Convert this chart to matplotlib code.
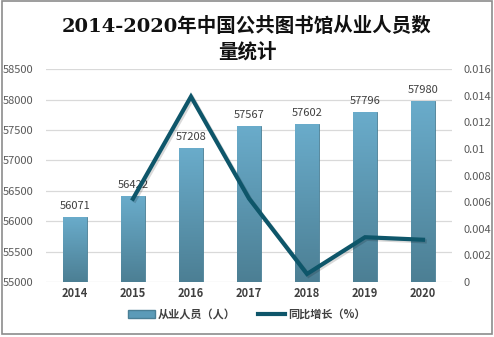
import numpy as np
import matplotlib
matplotlib.use("Agg")
import matplotlib.pyplot as plt
from matplotlib.patches import Rectangle
from matplotlib.colors import LinearSegmentedColormap
import matplotlib.patheffects as pe

plt.rcParams['font.family'] = ['Noto Sans CJK SC', 'DejaVu Sans']

years = ['2014', '2015', '2016', '2017', '2018', '2019', '2020']
staff = [56071, 56422, 57208, 57567, 57602, 57796, 57980]
growth_years = ['2015', '2016', '2017', '2018', '2019', '2020']
growth = [0.00626, 0.01393, 0.00628, 0.00061, 0.00337, 0.00318]

fig = plt.figure(figsize=(4.94, 3.37), dpi=100)
fig.patches.append(Rectangle((0.004, 0.008), 0.992, 0.99, transform=fig.transFigure,
                             fill=False, edgecolor='#8c8c8c', linewidth=1.2))

ax = fig.add_axes([0.093, 0.163, 0.822, 0.632])
x = np.arange(len(years))
bars = ax.bar(x, staff, width=0.4, color='#5b9bb8', edgecolor='#4a7f95', linewidth=0.6, zorder=2)
ax.set_yticks(np.arange(55000, 58501, 500))
ax.yaxis.grid(True, color='#d9d9d9', linewidth=0.9, zorder=0)
ax.set_axisbelow(True)
for s in ax.spines.values():
    s.set_visible(False)
ax.tick_params(axis='both', length=0, colors='#595959', labelsize=8)
ax.tick_params(axis='y', pad=9)
ax.set_xticks(x)
ax.set_xticklabels(years, fontweight='bold', color='#404040', fontsize=8)

# gradient fill on the bars
cmap = LinearSegmentedColormap.from_list('bar', ['#4c7f94', '#6aaccb'])
grad = np.linspace(0, 1, 100).reshape(-1, 1)
for b in bars:
    bx, bw, bh = b.get_x(), b.get_width(), b.get_height()
    im = ax.imshow(grad, cmap=cmap, origin='lower', aspect='auto',
                   extent=[bx, bx + bw, 55000, bh], zorder=2)
    im.set_clip_path(b)
ax.set_xlim(-0.5, len(years) - 0.5)
ax.set_ylim(55000, 58500)

for xi, v in zip(x, staff):
    ax.text(xi, v + 90, str(v), ha='center', va='bottom', fontsize=8, color='#404040')

ax2 = ax.twinx()
gx = [years.index(y) for y in growth_years]
ax2.plot(gx, growth, color='#0e566a', linewidth=3, solid_joinstyle='miter', zorder=3,
         path_effects=[pe.SimpleLineShadow(offset=(1.2, -1.2), alpha=0.15), pe.Normal()])
ax2.set_ylim(0, 0.016)
ax2.set_yticks(np.arange(0, 0.0161, 0.002))
ax2.set_yticklabels([f'{v:g}' for v in np.round(np.arange(0, 0.0161, 0.002), 3)])
for s in ax2.spines.values():
    s.set_visible(False)
ax2.tick_params(axis='y', length=0, colors='#595959', labelsize=8, pad=8)

title_font = ['DejaVu Serif', 'Noto Sans CJK SC']
fig.text(0.5, 0.92, '2014-2020年中国公共图书馆从业人员数', ha='center', va='center',
         fontsize=14, fontweight='bold', family=title_font, color='#111111')
fig.text(0.5, 0.845, '量统计', ha='center', va='center',
         fontsize=14, fontweight='bold', family=title_font, color='#111111')

h1 = Rectangle((0, 0), 1, 1, facecolor='#5b9bb8', edgecolor='#4a7f95')
h2, = ax2.plot([], [], color='#0e566a', linewidth=3)
fig.legend([h1, h2], ['从业人员（人）', '同比增长（%）'], loc='center', bbox_to_anchor=(0.5, 0.068),
           ncol=2, frameon=False, labelcolor='#404040', handlelength=2.4,
           handleheight=0.7, columnspacing=2, handletextpad=0.3, prop={'weight': 'bold', 'size': 8})

fig.savefig('out.png', dpi=100)
